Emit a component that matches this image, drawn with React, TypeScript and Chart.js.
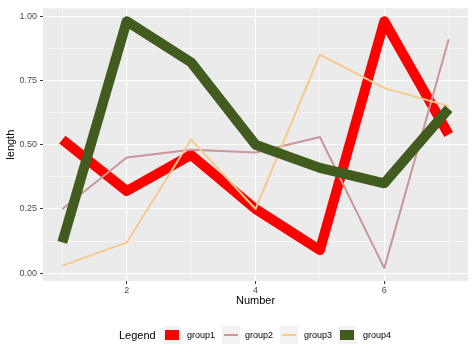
import React, { useEffect, useRef } from "react";
import { Chart, registerables } from "chart.js";

Chart.register(...registerables);

const numbers = [1, 2, 3, 4, 5, 6, 7];
const group1 = [0.52, 0.32, 0.46, 0.25, 0.09, 0.98, 0.54];
const group2 = [0.25, 0.45, 0.48, 0.47, 0.53, 0.02, 0.91];
const group3 = [0.03, 0.12, 0.52, 0.25, 0.85, 0.72, 0.65];
const group4 = [0.12, 0.98, 0.82, 0.5, 0.41, 0.35, 0.64];
const seriesNames = ["group1", "group2", "group3", "group4"];
const xTicks = [1, 2, 3, 4, 5, 6, 7];
const xLabelTicks = [2, 4, 6];
const yTicks = [0, 0.125, 0.25, 0.375, 0.5, 0.625, 0.75, 0.875, 1];
const yLabelTicks = [0, 0.25, 0.5, 0.75, 1];

const colors = ["#FF0000", "#C9969B", "#F6C98D", "#425B1F"];
const widths = [10, 2, 2, 10];

const FONT = "'Liberation Sans', Arial, sans-serif";

const panelBg = {
  id: "panelBg",
  beforeDraw(chart: any) {
    const { ctx, chartArea } = chart;
    ctx.save();
    ctx.fillStyle = "#EBEBEB";
    ctx.fillRect(chartArea.left, chartArea.top, chartArea.right - chartArea.left, chartArea.bottom - chartArea.top);
    ctx.restore();
  },
};

export default function App() {
  const ref = useRef<HTMLCanvasElement>(null);

  useEffect(() => {
    const series = [group1, group2, group3, group4];
    const chart = new Chart(ref.current!, {
      type: "line",
      data: {
        datasets: series.map((s, i) => ({
          label: seriesNames[i],
          data: s.map((v, j) => ({ x: numbers[j], y: v })),
          borderColor: colors[i],
          backgroundColor: colors[i],
          borderWidth: widths[i],
          pointRadius: 0,
          fill: false,
          tension: 0,
          borderJoinStyle: "round" as const,
          borderCapStyle: "butt" as const,
          order: 3 - i,
        })),
      },
      options: {
        animation: false,
        responsive: false,
        layout: { padding: { left: 0, top: 5, right: 6, bottom: 0 } },
        plugins: { legend: { display: false }, tooltip: { enabled: false } },
        scales: {
          x: {
            type: "linear",
            min: 0.7,
            max: 7.3,
            afterBuildTicks: (scale: any) => {
              scale.ticks = xTicks.map((v) => ({ value: v }));
            },
            afterFit: (scale: any) => {
              scale.height = 74;
            },
            ticks: {
              autoSkip: false,
              maxRotation: 0,
              padding: 1,
              color: "#4D4D4D",
              font: { family: FONT, size: 9 },
              callback: (v: any) => (xLabelTicks.includes(v) ? String(v) : ""),
            },
            grid: {
              color: "#FFFFFF",
              lineWidth: (c: any) => (xLabelTicks.includes(c.tick?.value) ? 1.1 : 0.5),
              tickColor: (c: any) => (xLabelTicks.includes(c.tick?.value) ? "#333333" : "rgba(0,0,0,0)"),
              tickLength: 3,
              tickWidth: 1,
            },
            border: { display: false },
            title: {
              display: true,
              text: "Number",
              color: "#000000",
              font: { family: FONT, size: 11 },
              padding: { top: 0, bottom: 47 },
            },
          },
          y: {
            type: "linear",
            min: -0.03,
            max: 1.03,
            afterBuildTicks: (scale: any) => {
              scale.ticks = yTicks.map((v) => ({ value: v }));
            },
            afterFit: (scale: any) => {
              scale.width = 43;
            },
            ticks: {
              autoSkip: false,
              padding: 3,
              color: "#4D4D4D",
              font: { family: FONT, size: 9 },
              callback: (v: any) => (yLabelTicks.includes(v) ? Number(v).toFixed(2) : ""),
            },
            grid: {
              color: "#FFFFFF",
              lineWidth: (c: any) => (yLabelTicks.includes(c.tick?.value) ? 1.1 : 0.5),
              tickColor: (c: any) => (yLabelTicks.includes(c.tick?.value) ? "#333333" : "rgba(0,0,0,0)"),
              tickLength: 3,
              tickWidth: 1,
            },
            border: { display: false },
            title: {
              display: true,
              text: "length",
              color: "#000000",
              font: { family: FONT, size: 11 },
              padding: { top: 4, bottom: 0 },
            },
          },
        },
      },
      plugins: [panelBg],
    });
    return () => chart.destroy();
  }, []);

  const keyX = [163, 222, 280, 338];
  const labelX = [187, 245, 304, 363];

  return (
    <div style={{ position: "fixed", left: 0, top: 0, width: 474, height: 355, background: "#FFFFFF", fontFamily: FONT }}>
      <canvas ref={ref} width={474} height={355} style={{ position: "absolute", left: 0, top: 0 }} />
      <div style={{ position: "absolute", left: 119, top: 328, fontSize: 11, lineHeight: "15px", color: "#000" }}>Legend</div>
      {seriesNames.map((n, i) => (
        <React.Fragment key={n}>
          <div style={{ position: "absolute", left: keyX[i], top: 326, width: 18, height: 18, background: "#F2F2F2" }}>
            <div
              style={{
                position: "absolute",
                left: 2,
                right: 2,
                top: 9 - widths[i] / 2,
                height: widths[i],
                background: colors[i],
              }}
            />
          </div>
          <div style={{ position: "absolute", left: labelX[i], top: 329, fontSize: 9, lineHeight: "12px", color: "#000" }}>{n}</div>
        </React.Fragment>
      ))}
    </div>
  );
}
